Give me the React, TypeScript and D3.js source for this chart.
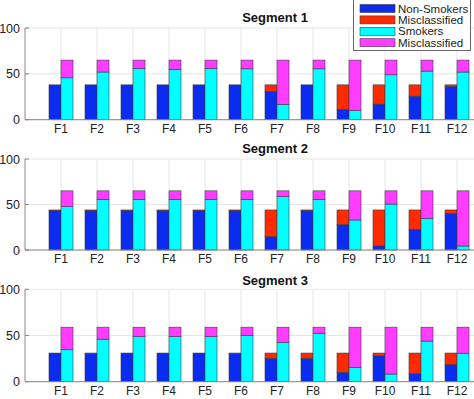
import React from "react";
import * as d3 from "d3";

const categories = ["F1", "F2", "F3", "F4", "F5", "F6", "F7", "F8", "F9", "F10", "F11", "F12"];
const segmentTitles = ["Segment 1", "Segment 2", "Segment 3"];
const yTicks = [0, 50, 100];
const legendLabels = ["Non-Smokers", "Misclassified", "Smokers", "Misclassified"];

// Segment 1
const seg1NonSmokers = [38, 38, 38, 38, 38, 38, 31, 38, 11.3, 17, 25.7, 36.3];
const seg1MisNon = [0, 0, 0, 0, 0, 0, 7, 0, 26.7, 21, 12.3, 1.7];
const seg1Smokers = [45.7, 52, 56, 55, 56, 55.5, 16.7, 55.5, 10, 49, 53, 52];
const seg1MisSmk = [19.3, 13, 9, 10, 9, 9.5, 48.3, 9.5, 55, 16, 12, 13];

// Segment 2
const seg2NonSmokers = [43.5, 43.5, 43.5, 43.5, 43.5, 43.5, 14.6, 43.5, 27.8, 4.4, 22.7, 40.3];
const seg2MisNon = [0.5, 0.5, 0.5, 0.5, 0.5, 0.5, 29.4, 0.5, 16.2, 39.6, 21.3, 3.7];
const seg2Smokers = [47.6, 55.7, 55.7, 55.7, 55.7, 55.7, 58.6, 55.7, 33, 50.5, 34.8, 4.4];
const seg2MisSmk = [17.4, 9.3, 9.3, 9.3, 9.3, 9.3, 6.4, 9.3, 32, 14.5, 30.2, 60.6];

// Segment 3
const seg3NonSmokers = [31, 30.5, 31, 31, 31, 30.5, 25.3, 25.3, 10.2, 28, 8.7, 18.4];
const seg3MisNon = [0, 0.5, 0, 0, 0, 0.5, 5.7, 5.7, 20.8, 3, 22.3, 12.6];
const seg3Smokers = [34.6, 46, 49, 49, 49, 50, 42.6, 52, 15.6, 8.3, 44, 30.3];
const seg3MisSmk = [24.4, 13, 10, 10, 10, 9, 16.4, 7, 43.4, 50.7, 15, 28.7];

const segments = [
  { nonS: seg1NonSmokers, misN: seg1MisNon, smk: seg1Smokers, misS: seg1MisSmk },
  { nonS: seg2NonSmokers, misN: seg2MisNon, smk: seg2Smokers, misS: seg2MisSmk },
  { nonS: seg3NonSmokers, misN: seg3MisNon, smk: seg3Smokers, misS: seg3MisSmk },
];

const COLORS = ["#0a2cf0", "#ff2a00", "#00ffff", "#ff3cff"];
const EDGE = "#3a3a4a";

const panels = [
  { top: 28, bottom: 119.7, titleY: 22, labelY: 133 },
  { top: 159, bottom: 250, titleY: 153, labelY: 263 },
  { top: 289.3, bottom: 381.7, titleY: 285, labelY: 395 },
];

const W = 474;
const H = 399;
const FONT = "'Liberation Sans', Arial, Helvetica, sans-serif";

export default function App() {
  const x = d3.scaleLinear().domain([0, categories.length + 1]).range([25, 493]);
  const barW = 12;

  return (
    <svg width={W} height={H} style={{ position: "absolute", left: 0, top: 0, background: "#fff" }}>
      {panels.map((p, pi) => {
        const y = d3.scaleLinear().domain([0, 100]).range([p.bottom, p.top]);
        const seg = segments[pi];
        return (
          <g key={pi}>
            {yTicks.map((t) => (
              <line key={"h" + t} x1={x(0)} x2={W} y1={y(t)} y2={y(t)} stroke="#e6e6e6" strokeWidth={1} />
            ))}
            {categories.map((c, i) => (
              <line key={"v" + c} x1={x(i + 1)} x2={x(i + 1)} y1={y(100)} y2={y(0)} stroke="#e6e6e6" strokeWidth={1} />
            ))}
            {categories.map((c, i) => {
              const cx = x(i + 1);
              const b = seg.nonS[i];
              const r = seg.misN[i];
              const s = seg.smk[i];
              const m = seg.misS[i];
              const rects = [
                { x0: cx - barW, v0: 0, v1: b, col: COLORS[0] },
                { x0: cx - barW, v0: b, v1: b + r, col: COLORS[1] },
                { x0: cx, v0: 0, v1: s, col: COLORS[2] },
                { x0: cx, v0: s, v1: s + m, col: COLORS[3] },
              ];
              return (
                <g key={c}>
                  {rects.filter((rc) => rc.v1 > rc.v0).map((rc, k) => (
                    <rect
                      key={k}
                      x={rc.x0}
                      y={y(rc.v1)}
                      width={barW}
                      height={y(rc.v0) - y(rc.v1)}
                      fill={rc.col}
                      stroke={EDGE}
                      strokeWidth={0.6}
                    />
                  ))}
                  <text x={cx} y={p.labelY} textAnchor="middle" fontFamily={FONT} fontSize={12} fill="#222">
                    {c}
                  </text>
                </g>
              );
            })}
            <line x1={x(0)} x2={x(0)} y1={y(100)} y2={y(0)} stroke="#888" strokeWidth={1} />
            <line x1={x(0)} x2={W} y1={y(0)} y2={y(0)} stroke="#888" strokeWidth={1} />
            {yTicks.map((t) => (
              <g key={"t" + t}>
                <line x1={x(0)} x2={x(0) + 4} y1={y(t)} y2={y(t)} stroke="#888" />
                <text x={x(0) - 5} y={y(t) + 4.5} textAnchor="end" fontFamily={FONT} fontSize={12.5} fill="#222">
                  {t}
                </text>
              </g>
            ))}
            <text x={275} y={p.titleY} textAnchor="middle" fontFamily={FONT} fontSize={13} fontWeight="bold" fill="#111">
              {segmentTitles[pi]}
            </text>
          </g>
        );
      })}
      <g>
        <rect x={353.5} y={-1} width={117} height={51.5} fill="#fff" stroke="#666" strokeWidth={1} />
        {legendLabels.map((l, i) => {
          const cy = 8.5 + i * 11.4;
          return (
            <g key={i}>
              <rect x={360} y={cy - 4} width={35} height={8} fill={COLORS[i]} stroke={EDGE} strokeWidth={0.6} />
              <text x={398} y={cy + 4} fontFamily={FONT} fontSize={11.5} fill="#222">
                {l}
              </text>
            </g>
          );
        })}
      </g>
    </svg>
  );
}
